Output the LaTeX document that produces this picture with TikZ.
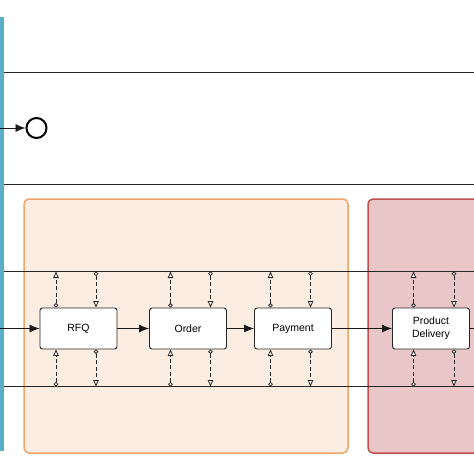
\documentclass[tikz,border=0pt]{standalone}
\usepackage{fontspec}
\setmainfont{Liberation Sans}
\usetikzlibrary{arrows.meta}
\definecolor{laneblue}{HTML}{5AAFC8}
\definecolor{orfill}{HTML}{FCEDE2}
\definecolor{ordraw}{HTML}{EFA46A}
\definecolor{rdfill}{HTML}{E9C6C8}
\definecolor{rddraw}{HTML}{C0504D}
\tikzset{
  task/.style={draw=black!85, line width=0.9pt, fill=white, rounded corners=2.5pt, minimum width=77pt, minimum height=41pt, font=\fontsize{10.5}{12.5}\selectfont, align=center, inner sep=0pt},
  flow/.style={-{Latex[length=10pt,width=8pt]}, line width=0.8pt, black!90},
  hline/.style={line width=0.8pt, black!85},
  assoc/.style={dash pattern=on 4pt off 2.5pt, line width=0.8pt, black!85, {Circle[open,length=4.5pt,fill=white,line width=0.8pt]}-{Triangle[open,length=6.5pt,width=5.5pt,fill=white,line width=0.8pt]}},
  group/.style={rounded corners=5pt, line width=1.5pt}
}
\begin{document}
\begin{tikzpicture}[x=1pt,y=-1pt]
\useasboundingbox (0,0) rectangle (474,474);
% groups
\draw[group, fill=orfill, draw=ordraw] (24,199) rectangle (348,453);
\draw[group, fill=rdfill, draw=rddraw] (368,199) rectangle (480,453);
% pool lines
\draw[hline] (0,72) -- (474,72);
\draw[hline] (0,184) -- (474,184);
\draw[hline] (0,271.5) -- (474,271.5);
\draw[hline] (0,386.5) -- (474,386.5);
% lane
\fill[laneblue] (0,17) rectangle (3.5,451);
% start event
\node[circle, draw=black, line width=2pt, minimum size=20pt, inner sep=0pt] (ev) at (36.5,128) {};
\coordinate (evin) at (0,128);
\draw[flow] (evin) -- (ev);
% tasks
\node[task] (rfq) at (78.5,328.5) {RFQ};
\node[task] (ord) at (188,328.5) {Order};
\node[task] (pay) at (293,328.5) {Payment};
\node[task] (del) at (431,328.5) {Product\\Delivery};
\coordinate (in) at (0,328.5);
\coordinate (out) at (474,328.5);
\draw[flow] (in) -- (rfq);
\draw[flow] (rfq) -- (ord);
\draw[flow] (ord) -- (pay);
\draw[flow] (pay) -- (del);
\draw[line width=0.8pt, black!90] (del) -- (out);
% associations
\foreach \n/\a/\b in {rfq/56/96, ord/170.5/210.5, pay/270.5/310.5, del/413.5/454}{
  \coordinate (\n ut) at (\a,271.5);
  \coordinate (\n dt) at (\b,271.5);
  \coordinate (\n ub) at (\a,386.5);
  \coordinate (\n db) at (\b,386.5);
  \draw[assoc] (\n.north -| \n ut) -- (\n ut);
  \draw[assoc] (\n dt) -- (\n.north -| \n dt);
  \draw[assoc] (\n ub) -- (\n.south -| \n ub);
  \draw[assoc] (\n.south -| \n db) -- (\n db);
}
\end{tikzpicture}
\end{document}
